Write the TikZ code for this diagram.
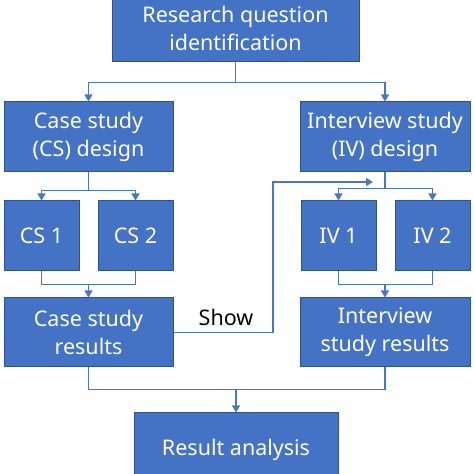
\documentclass[tikz,border=0pt]{standalone}
\usepackage{fontspec}
\setmainfont{Noto Sans}
\usetikzlibrary{arrows.meta,positioning,calc}
\definecolor{flowfill}{HTML}{4472C4}
\definecolor{flowedge}{HTML}{2F528F}
\definecolor{flowline}{HTML}{4A76C2}
\tikzset{
  stageBox/.style={draw=flowedge, fill=flowfill, line width=1pt, text=white, align=center,
    inner sep=2pt, font=\fontsize{21.5}{28}\selectfont},
  flowLink/.style={draw=flowline, line width=1.2pt},
  flowArrow/.style={flowLink, -{Triangle[length=7pt,width=8pt]}}
}
\begin{document}
\begin{tikzpicture}[x=1pt,y=1pt]
  \useasboundingbox (0,0) rectangle (474,474);
  % stages
  \node[stageBox, minimum width=247pt, minimum height=67pt] (rq) at (235.5,445.5) {Research question\\identification};
  \node[stageBox, minimum width=169pt, minimum height=70pt] (csd) at (88.5,337) {Case study\\(CS) design};
  \node[stageBox, minimum width=170pt, minimum height=70pt] (ivd) at (385,337) {Interview study\\(IV) design};
  \node[stageBox, minimum width=75pt, minimum height=70pt] (cs1) at (41.5,238) {CS 1};
  \node[stageBox, minimum width=75pt, minimum height=70pt] (cs2) at (135.5,238) {CS 2};
  \node[stageBox, minimum width=75pt, minimum height=70pt] (iv1) at (338.5,238) {IV 1};
  \node[stageBox, minimum width=75pt, minimum height=70pt] (iv2) at (432.5,238) {IV 2};
  \node[stageBox, minimum width=169pt, minimum height=69pt] (csr) at (88.5,141.5) {Case study\\results};
  \node[stageBox, minimum width=170pt, minimum height=69pt] (ivr) at (385,141.5) {Interview\\study results};
  \node[stageBox, minimum width=204pt, minimum height=74pt] (ra) at (236,24) {Result analysis};
  % design branches
  \draw[flowArrow] (rq.south) -- ++(0,-20) -| (csd.north);
  \draw[flowArrow] (rq.south) -- ++(0,-20) -| (ivd.north);
  \draw[flowArrow] (csd.south) -- ++(0,-18) -| (cs1.north);
  \draw[flowArrow] (csd.south) -- ++(0,-18) -| (cs2.north);
  \draw[flowArrow] (ivd.south) -- ++(0,-16) -| (iv1.north);
  \draw[flowArrow] (ivd.south) -- ++(0,-16) -| (iv2.north);
  % merge into results
  \draw[flowLink] (cs1.south) -- ++(0,-13) coordinate (csjoin) -| (cs2.south);
  \draw[flowArrow] (csjoin -| csr.north) -- (csr.north);
  \draw[flowLink] (iv1.south) -- ++(0,-13) coordinate (ivjoin) -| (iv2.south);
  \draw[flowArrow] (ivjoin -| ivr.north) -- (ivr.north);
  \draw[flowLink] (csr.south) -- ++(0,-22) coordinate (rjoin) -| (ivr.south);
  \draw[flowArrow] (rjoin -| ra.north) -- (ra.north);
  % show link
  \coordinate (showend) at (373,292);
  \draw[flowArrow] (csr.east) -- (273,141.5) |- (showend);
  \node[font=\fontsize{21.5}{28}\selectfont] (show) at (226,157) {Show};
\end{tikzpicture}
\end{document}
